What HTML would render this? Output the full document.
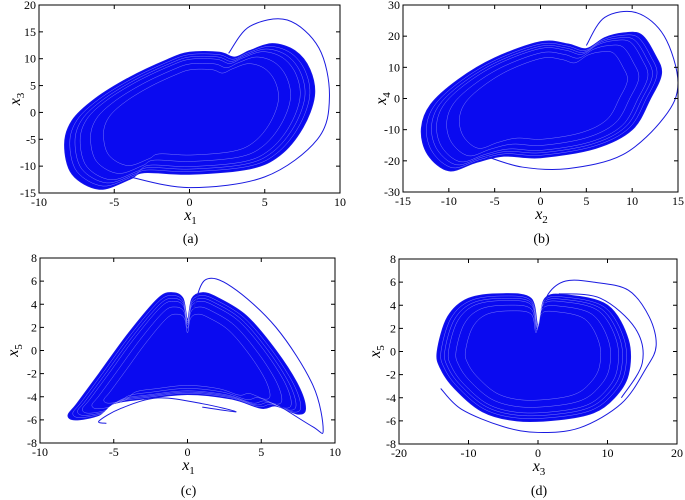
<!DOCTYPE html>
<html><head><meta charset="utf-8"><style>
body{margin:0;background:#fff;width:685px;height:500px;overflow:hidden}
svg{display:block}
text{font-family:"Liberation Serif",serif;fill:#000}
</style></head><body>
<svg id="fig" width="685" height="500"></svg>
<script>
// Panel data (data units)
const panelA_xTicks=[-10,-5,0,5,10];
const panelA_yTicks=[20,15,10,5,0,-5,-10,-15];
const panelA_core=[[-8.3,-6],[-7.8,-1.5],[-6.3,2.5],[-4,6.5],[-1.5,9.8],[0,11.2],[2,11.2],[3,10.3],[4,11.5],[5.5,12.8],[7,11.5],[8,8],[8.3,3],[7.5,-3],[6,-8],[4,-10.5],[0,-11.5],[-3,-11.2],[-4,-12.5],[-6,-14.3],[-7.8,-11.5]];
const panelA_loop=[[-4,-12],[0,-14],[5,-12],[8.5,-5],[9.3,3],[8.6,12],[6.5,17.2],[4,16],[2.6,11]];
const panelB_xTicks=[-15,-10,-5,0,5,10,15];
const panelB_yTicks=[30,20,10,0,-10,-20,-30];
const panelB_core=[[-13,-10],[-12,-2],[-9,6],[-5,13],[0,18.2],[3,17.5],[5,16],[7,19.5],[9,21],[11,20.5],[12.5,14],[13.2,8],[12,0],[10,-10],[6,-16],[0,-19],[-4,-18.5],[-7,-20.5],[-10,-23.2],[-12.3,-18]];
const panelB_loop=[[-6,-18.5],[-2,-22],[3,-22.5],[9,-18],[13.5,-6],[15,5],[13.5,20],[10.5,27.5],[7,26],[5,17]];
const panelC_xTicks=[-10,-5,0,5,10];
const panelC_yTicks=[8,6,4,2,0,-2,-4,-6,-8];
const panelC_core=[[-8.1,-5.6],[-7.5,-4.6],[-6,-2],[-4,1.5],[-2,4.5],[-1,5],[-0.3,4.5],[0,2.7],[0.3,4.5],[1,5],[2,4.6],[4,3],[6,0],[7.5,-3],[8,-5],[7.5,-5.5],[6,-4.8],[5,-5],[3,-4.2],[0,-3.8],[-3,-4.2],[-5,-4.6],[-6,-5.6],[-7.6,-6]];
const panelC_loop=[[0.4,3.5],[1.2,6.1],[3,5.5],[6,2],[8.5,-3],[9.2,-6.9],[8.5,-6.6],[6,-4.6]];
const panelC_loop2=[[-5.5,-6.3],[-6,-6.1],[-4.5,-5],[-2,-4.1],[1,-4.6],[3.3,-5.3],[1,-4.9]];
const panelD_xTicks=[-20,-10,0,10,20];
const panelD_yTicks=[8,6,4,2,0,-2,-4,-6,-8];
const panelD_core=[[-14.5,0],[-13,3],[-10,4.6],[-5,5],[-1,4.6],[0,2.3],[1,4.6],[4,4.9],[10,4],[13,1],[13,-2],[11,-4],[8,-5.3],[3,-5.9],[-3,-6],[-8,-5.2],[-12,-3.2],[-14,-1.5]];
const panelD_loop=[[-14,-3.2],[-11,-5],[-5,-6.5],[0,-7],[6,-6.6],[12,-4.5],[15.5,-1.5],[17,0.5],[16,3],[13,5.3],[8,6],[4,6.1],[1.5,5],[0.5,3]];
const panelD_loop2=[[3,5],[9,4.6],[14,2],[15,-1],[12,-4]];

const NS="http://www.w3.org/2000/svg";
const svg=document.getElementById('fig');
function mk(tag,attrs,parent){const e=document.createElementNS(NS,tag);for(const k in attrs)e.setAttribute(k,attrs[k]);(parent||svg).appendChild(e);return e;}

function panel(cfg){
  const g=mk('g',{});
  
  
  const {L,R,T,B,xmin,xmax,ymin,ymax}=cfg;
  const sx=v=>L+(v-xmin)/(xmax-xmin)*(R-L);
  const sy=v=>B-(v-ymin)/(ymax-ymin)*(B-T);
  const pathOf=(pts,close)=>{
    const P=pts.map(p=>[sx(p[0]),sy(p[1])]);const n=P.length;
    let d='M'+P[0][0]+','+P[0][1];
    const last=close?n:n-1;
    for(let i=0;i<last;i++){
      const p0=P[(i-1+n)%n],p1=P[i],p2=P[(i+1)%n],p3=P[(i+2)%n];
      const a=close||i>0?p0:p1, b=close||i+2<n?p3:p2;
      d+=` C${p1[0]+(p2[0]-a[0])/6},${p1[1]+(p2[1]-a[1])/6} ${p2[0]-(b[0]-p1[0])/6},${p2[1]-(b[1]-p1[1])/6} ${p2[0]},${p2[1]}`;
    }
    return d+(close?'Z':'');
  };
  const core=mk('path',{d:pathOf(cfg.core,true),fill:'#0a0af0',stroke:'#1515e8','stroke-width':1},g);
  
  
  const cx=(cfg.core.reduce((s,p)=>s+p[0],0))/cfg.core.length, cy=(cfg.core.reduce((s,p)=>s+p[1],0))/cfg.core.length;
  [0.96,0.92,0.88,0.8,0.7].forEach(k=>{
    const pts=cfg.core.map(p=>[cx+(p[0]-cx)*k,cy+(p[1]-cy)*k]);
    mk('path',{d:pathOf(pts,true),fill:'none',stroke:'#fff','stroke-width':0.5,'stroke-opacity':0.45},g);
  });
  cfg.loops.forEach(l=>{
    const p=mk('path',{d:pathOf(l,false),fill:'none',stroke:'#1a1ae0','stroke-width':1},g);
    
    
  });
  const fr=mk('rect',{x:L,y:T,width:R-L,height:B-T,fill:'none',stroke:'#000','stroke-width':1},g);
  
  
  cfg.xt.forEach(v=>{
    const x=sx(v);
    mk('line',{x1:x,y1:B,x2:x,y2:B-4,stroke:'#000'},g);
    mk('line',{x1:x,y1:T,x2:x,y2:T+4,stroke:'#000'},g);
    const t=mk('text',{x:x,y:B+13,'text-anchor':'middle','font-size':12},g);t.textContent=v;
    
    
  });
  cfg.yt.forEach(v=>{
    const y=sy(v);
    mk('line',{x1:L,y1:y,x2:L+4,y2:y,stroke:'#000'},g);
    mk('line',{x1:R,y1:y,x2:R-4,y2:y,stroke:'#000'},g);
    const t=mk('text',{x:L-3,y:y+4,'text-anchor':'end','font-size':12},g);t.textContent=v;
    
    
  });
  const xl=mk('text',{x:(L+R)/2+1,y:B+27,'text-anchor':'middle','font-size':16,'font-style':'italic'},g);
  xl.innerHTML='x<tspan font-size="11" font-style="normal" dy="4">'+cfg.xs+'</tspan>';
  
  
  const yl=mk('text',{transform:`translate(${cfg.ylx},${(T+B)/2}) rotate(-90)`,'text-anchor':'middle','font-size':16,'font-style':'italic'},g);
  yl.innerHTML='x<tspan font-size="11" font-style="normal" dy="4">'+cfg.ys+'</tspan>';
  
  
  const cap=mk('text',{x:(L+R)/2+1,y:cfg.capY,'text-anchor':'middle','font-size':14},g);
  cap.textContent=cfg.cap;
  
  
}
panel({name:'panel-a',L:39,R:340,T:5,B:193,xmin:-10,xmax:10,ymin:-15,ymax:20,xt:panelA_xTicks,yt:panelA_yTicks,core:panelA_core,loops:[panelA_loop],xs:'1',ys:'3',ylx:20,cap:'(a)',capY:243});
panel({name:'panel-b',L:403,R:678,T:5,B:192,xmin:-15,xmax:15,ymin:-30,ymax:30,xt:panelB_xTicks,yt:panelB_yTicks,core:panelB_core,loops:[panelB_loop],xs:'2',ys:'4',ylx:386,cap:'(b)',capY:243});
panel({name:'panel-c',L:40,R:335,T:258,B:443,xmin:-10,xmax:10,ymin:-8,ymax:8,xt:panelC_xTicks,yt:panelC_yTicks,core:panelC_core,loops:[panelC_loop,panelC_loop2],xs:'1',ys:'5',ylx:18,cap:'(c)',capY:495});
panel({name:'panel-d',L:399,R:677,T:259,B:444,xmin:-20,xmax:20,ymin:-8,ymax:8,xt:panelD_xTicks,yt:panelD_yTicks,core:panelD_core,loops:[panelD_loop,panelD_loop2],xs:'3',ys:'5',ylx:380,cap:'(d)',capY:495});
</script>
</body></html>
